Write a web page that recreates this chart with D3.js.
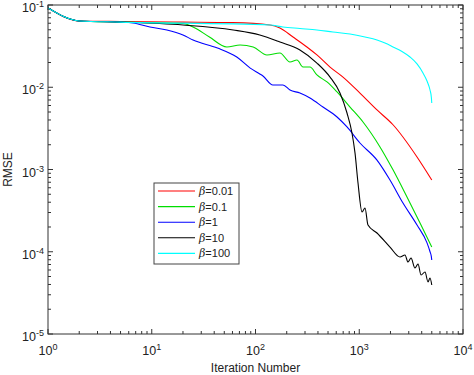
<!DOCTYPE html>
<html>
<head>
<meta charset="utf-8">
<script src="https://cdn.jsdelivr.net/npm/d3@7"></script>
<style>
  body { margin: 0; background: #fff; }
  text { font-family: "Liberation Sans", Arial, sans-serif; fill: #222; }
</style>
</head>
<body>
<div id="chart"></div>
<script>
// iteration / rmse pairs
const betaLabels = ["0.01", "0.1", "1", "10", "100"]
const lineColors = ["#f00", "#0d0", "#00f", "#000", "#0ff"]

const red = [[1,0.092],[2,0.064],[5,0.063],[20,0.062],[60,0.061],[138,0.0571],[172,0.0525],[230,0.0408],
  [313,0.0309],[391,0.0247],[523,0.0176],[697,0.0133],[1016,0.0085],[1483,0.0053],[2115,0.0035],
  [3605,0.00142],[5000,0.000745]]
const green = [[1,0.092],[2,0.064],[5,0.062],[20,0.0595],[25,0.054],[36,0.0408],[53,0.0309],[71,0.0326],
  [95,0.0309],[129,0.0247],[172,0.0261],[215,0.0203],[251,0.0214],[287,0.0176],[335,0.0176],[391,0.0141],
  [489,0.0116],[611,0.00876],[815,0.00575],[1087,0.00378],[1585,0.00188],[2115,0.00099],[2885,0.000463],
  [3853,0.000224],[5000,0.000114]]
const blue = [[1,0.092],[2,0.064],[5,0.062],[6.6,0.0604],[9.6,0.054],[14,0.0497],[20,0.0432],[25,0.0375],
  [43,0.030],[66,0.0233],[89,0.0171],[110,0.0145],[118,0.0137],[147,0.01066],[184,0.01066],[215,0.00926],
  [268,0.00851],[335,0.0074],[447,0.00575],[611,0.00435],[762,0.00329],[1016,0.0021],[1483,0.0013],
  [1978,0.000745],[2640,0.000391],[3605,0.000211],[4500,0.000128],[4810,0.0001],[4950,0.000088],[5000,0.0000794]]
const black = [[1,0.092],[2,0.064],[5,0.062],[20,0.0571],[61,0.0497],[110,0.0432],[172,0.0355],[268,0.0284],
  [391,0.0197],[523,0.0133],[652,0.00851],[762,0.00486],[851,0.00278],[910,0.00159],[973,0.000685],
  [1064,0.000304],[1136,0.00034],[1214,0.000211],[1483,0.000169],[1978,0.000114],[2470,0.0000863],
  [2760,0.0000913],[2950,0.000075],[3155,0.0000839],[3445,0.0000634],[3685,0.000071],[3940,0.0000522],
  [4305,0.0000567],[4600,0.0000429],[4810,0.000048],[5000,0.0000394]]
const cyan = [[1,0.092],[2,0.064],[5,0.062],[138,0.0571],[184,0.054],[268,0.0518],[391,0.0497],[558,0.0469],
  [815,0.0444],[1136,0.0408],[1483,0.0375],[1770,0.0345],[2115,0.0309],[2582,0.0272],[3085,0.0233],
  [3605,0.0192],[4115,0.0149],[4500,0.0119],[4810,0.00926],[4950,0.0076],[5000,0.00643]]

const series = [red, green, blue, black, cyan]
const xDecades = [0, 1, 2, 3, 4]
const yDecades = [-5, -4, -3, -2, -1]

const W = 474, H = 375
const margin = {top: 5, right: 11, bottom: 41, left: 48}
const width = W - margin.left - margin.right
const height = H - margin.top - margin.bottom

const svg = d3.select("#chart").append("svg")
    .attr("width", W)
    .attr("height", H)
  .append("g")
    .attr("transform", `translate(${margin.left},${margin.top})`)

const xScale = d3.scaleLog().domain([1, 1e4]).range([0, width])
const yScale = d3.scaleLog().domain([1e-5, 1e-1]).range([height, 0])

svg.append("defs").append("clipPath").attr("id", "clip")
  .append("rect").attr("width", width).attr("height", height)

// minor + major ticks, drawn inward on all four sides
function logTicks(decs) {
  const out = []
  decs.forEach((e, i) => {
    out.push({v: Math.pow(10, e), major: true})
    if (i < decs.length - 1) for (let k = 2; k <= 9; k++) out.push({v: k * Math.pow(10, e), major: false})
  })
  return out
}
const xt = logTicks(xDecades), yt = logTicks(yDecades)
const tickG = svg.append("g").attr("stroke", "#333").attr("stroke-width", 1)
xt.forEach(t => {
  const x = xScale(t.v), len = t.major ? 5 : 3
  tickG.append("line").attr("x1", x).attr("x2", x).attr("y1", height).attr("y2", height - len)
  tickG.append("line").attr("x1", x).attr("x2", x).attr("y1", 0).attr("y2", len)
})
yt.forEach(t => {
  const y = yScale(t.v), len = t.major ? 5 : 3
  tickG.append("line").attr("x1", 0).attr("x2", len).attr("y1", y).attr("y2", y)
  tickG.append("line").attr("x1", width).attr("x2", width - len).attr("y1", y).attr("y2", y)
})

// tick labels as 10^n
xDecades.forEach(e => {
  const t = svg.append("text")
    .attr("x", xScale(Math.pow(10, e))).attr("y", height + 21)
    .attr("text-anchor", "middle").style("font-size", "12.5px")
  t.append("tspan").text("10")
  t.append("tspan").attr("dy", -5).style("font-size", "9px").text(e)
})
yDecades.forEach(e => {
  const t = svg.append("text")
    .attr("x", -4).attr("y", yScale(Math.pow(10, e)) + 7)
    .attr("text-anchor", "end").style("font-size", "12.5px")
  t.append("tspan").text("10")
  t.append("tspan").attr("dy", -5).style("font-size", "9px").text(e)
})

const line = d3.line()
  .x(d => xScale(d[0]))
  .y(d => yScale(d[1]))
  .curve(d3.curveMonotoneX)

svg.append("g").attr("clip-path", "url(#clip)")
  .selectAll("path")
  .data(series)
  .join("path")
    .attr("d", line)
    .attr("fill", "none")
    .attr("stroke", (d, i) => lineColors[i])
    .attr("stroke-width", 1.1)
    .attr("stroke-linejoin", "round")

// axis box
svg.append("rect")
  .attr("width", width).attr("height", height)
  .attr("fill", "none").attr("stroke", "#333").attr("stroke-width", 1)

// axis titles
svg.append("text")
  .attr("x", width / 2).attr("y", height + 38)
  .attr("text-anchor", "middle").style("font-size", "12px")
  .text("Iteration Number")
svg.append("text")
  .attr("transform", `translate(${-36},${height / 2}) rotate(-90)`)
  .attr("text-anchor", "middle").style("font-size", "12px")
  .text("RMSE")

// legend
const leg = svg.append("g").attr("transform", "translate(106,178)")
leg.append("rect").attr("width", 85).attr("height", 81)
  .attr("fill", "#fff").attr("stroke", "#444").attr("stroke-width", 1)
betaLabels.forEach((b, i) => {
  const y = 8 + i * 15.6
  leg.append("line").attr("x1", 4).attr("x2", 41).attr("y1", y).attr("y2", y)
    .attr("stroke", lineColors[i]).attr("stroke-width", 1.1)
  const t = leg.append("text").attr("x", 45).attr("y", y + 4).style("font-size", "11px")
  t.append("tspan").style("font-style", "italic").style("font-family", "DejaVu Serif").text("\u03b2")
  t.append("tspan").text("=" + b)
})
</script>
</body>
</html>
